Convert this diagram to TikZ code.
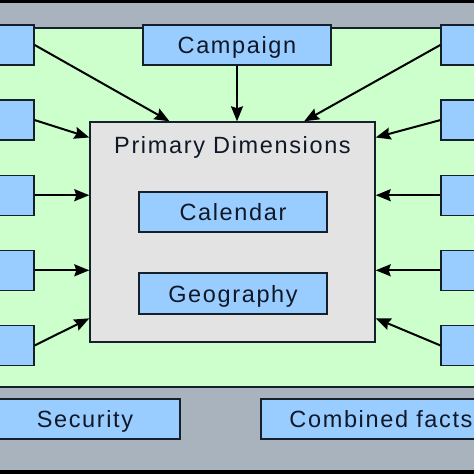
\documentclass[tikz,border=0pt]{standalone}
\usepackage{fontspec}
\newfontfamily\boxfont{Liberation Sans}[LetterSpace=7]
\usepackage{tikz}
\usetikzlibrary{arrows.meta}
\usetikzlibrary{calc}
\usetikzlibrary{positioning}
\definecolor{bandgray}{HTML}{A9B3BD}
\definecolor{areagreen}{HTML}{CCFFCC}
\definecolor{dimblue}{HTML}{99CCFF}
\definecolor{pdgray}{HTML}{E3E3E3}
\definecolor{boxline}{HTML}{15202A}
\definecolor{textnavy}{HTML}{101828}

\begin{document}
\begin{tikzpicture}[x=1pt,y=-1pt,->,>={Stealth[length=15pt,width=12pt,inset=2pt]},
  line width=2pt,node distance=33.7pt,
  dim node/.style={rectangle,fill=dimblue,draw=boxline,line width=1.4pt,minimum width=75pt,
    minimum height=40pt,text height=17pt,text depth=0pt,
    font=\boxfont\fontsize{23.5}{28}\selectfont,text=textnavy}]

  \useasboundingbox (0,0) rectangle (474,474);
  \clip (0,0) rectangle (474,474);

  % outer frame and fact area
  \fill[black] (0,0) rectangle (474,474);
  \fill[bandgray] (-10,3) rectangle (484,470);
  \draw[-,fill=areagreen,draw=boxline,line width=1.5pt] (-10,28) rectangle (484,387);

  \node[dim node] (l1) at (-3.5,45) {};
  \node[dim node] (l2) [below=of l1] {};
  \node[dim node] (l3) [below=of l2] {};
  \node[dim node] (l4) [below=of l3] {};
  \node[dim node] (l5) [below=of l4] {};

  \node[dim node] (r1) at (478.5,45) {};
  \node[dim node] (r2) [below=of r1] {};
  \node[dim node] (r3) [below=of r2] {};
  \node[dim node] (r4) [below=of r3] {};
  \node[dim node] (r5) [below=of r4] {};

  \node[dim node,minimum width=188pt] (camp) at (237,45) {Campaign};

  \node[rectangle,fill=pdgray,draw=boxline,line width=1.4pt,minimum width=285pt,
    minimum height=220pt] (pd) at (232.5,232) {};
  \node[font=\boxfont\fontsize{23.5}{28}\selectfont,text=textnavy,inner sep=0pt,anchor=north]
    (pdtitle) at ($(pd.north)+(0,14)$) {Primary Dimensions};
  \node[dim node,minimum width=188pt] (cal) at (233,212) {Calendar};
  \node[dim node,minimum width=188pt,minimum height=41pt] (geo) at (233,293.5) {Geography};

  \node[dim node,minimum width=190pt] (sec) at (85,419) {Security};
  \node[dim node,minimum width=240pt] (comb) at (381,419) {Combined facts};

  \draw (camp.south) -- (camp.south |- pd.north);

  \draw (l1.east) -- ($(pd.north west)!0.28!(pd.north east)$);
  \draw (l2.east) -- ($(pd.north west)!0.073!(pd.south west)$);
  \draw (l3.east) -- (l3.east -| pd.west);
  \draw (l4.east) -- (l4.east -| pd.west);
  \draw (l5.east) -- ($(pd.north west)!0.89!(pd.south west)$);

  \draw (r1.west) -- ($(pd.north west)!0.75!(pd.north east)$);
  \draw (r2.west) -- ($(pd.north east)!0.073!(pd.south east)$);
  \draw (r3.west) -- (r3.west -| pd.east);
  \draw (r4.west) -- (r4.west -| pd.east);
  \draw (r5.west) -- ($(pd.north east)!0.89!(pd.south east)$);
\end{tikzpicture}
\end{document}
